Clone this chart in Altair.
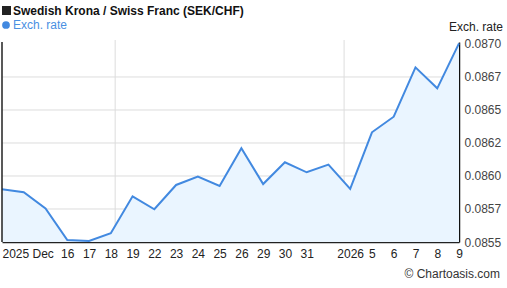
import json
import altair as alt
import pandas as pd

# ---- data ----
dates = ["2025-12-11", "2025-12-12", "2025-12-15", "2025-12-16", "2025-12-17",
         "2025-12-18", "2025-12-19", "2025-12-22", "2025-12-23", "2025-12-24",
         "2025-12-25", "2025-12-26", "2025-12-29", "2025-12-30", "2025-12-31",
         "2026-01-01", "2026-01-02", "2026-01-05", "2026-01-06", "2026-01-07",
         "2026-01-08", "2026-01-09"]
x_labels = ["2025 Dec", "", "", "16", "17", "18", "19", "22", "23", "24", "25",
            "26", "29", "30", "31", "", "2026", "5", "6", "7", "8", "9"]
rates = [0.085899, 0.085877, 0.085755, 0.085515, 0.085508, 0.085566, 0.085846,
         0.085748, 0.085932, 0.085995, 0.085924, 0.086210, 0.085939, 0.086104,
         0.086028, 0.086086, 0.085902, 0.086331, 0.086449, 0.086823, 0.086664,
         0.087005]
y_ticks = [0.0855, 0.08575, 0.0860, 0.08625, 0.0865, 0.08675, 0.0870]
h_grid = [0.08575, 0.0860, 0.08625, 0.0865, 0.08675]
v_grid = [5.2, 15.72]

title_text = "Swedish Krona / Swiss Franc (SEK/CHF)"
series_name = "Exch. rate"
credit = "© Chartoasis.com"

W, H = 457, 200
LINE = "#4289e0"
FILL = "#eaf5ff"
FONT = "Liberation Sans"

df = pd.DataFrame({"idx": list(range(len(rates))), "date": dates,
                   "label": x_labels, "rate": rates})

xscale = alt.Scale(domain=[0, len(rates) - 1], nice=False, zero=False)
yscale = alt.Scale(domain=[y_ticks[0], 0.087015], nice=False, zero=False)

x_axis = alt.Axis(
    values=[i for i, l in enumerate(x_labels) if l],
    labelExpr=f"{json.dumps(x_labels)}[round(datum.value)]",
    labelAlign={"condition": {"test": "datum.value == 0", "value": "left"}, "value": "center"},
    labelFlush=False, labelOverlap=False, labelBound=False,
    ticks=False, grid=False, labelPadding=6, labelFontSize=12,
    labelColor="#222222", domainColor="#222222", domainWidth=1.5, title=None,
)
y_axis = alt.Axis(
    orient="right", values=y_ticks,
    labelExpr="format(floor(datum.value*10000+0.001)/10000, '.4f')",
    ticks=False, grid=False, labelPadding=5, labelFontSize=12,
    labelColor="#444444", domainColor="#111111", domainWidth=1.5, title=None,
    labelOverlap=False,
)

X = alt.X("idx:Q", scale=xscale, axis=x_axis)
Y = alt.Y("rate:Q", scale=yscale, axis=y_axis)

hgrid = alt.Chart(pd.DataFrame({"rate": h_grid})).mark_rule(
    color="#dddddd", strokeWidth=1).encode(y=Y)
vgrid = alt.Chart(pd.DataFrame({"idx": v_grid})).mark_rule(
    color="#dddddd", strokeWidth=1).encode(x=X, y=alt.value(-2), y2=alt.value(H))

area = alt.Chart(df).mark_area(color=FILL, opacity=1).encode(
    x=X, y=Y, y2=alt.datum(y_ticks[0]),
)
line = alt.Chart(df).mark_line(color=LINE, strokeWidth=2).encode(x=X, y=Y)
left_border = alt.Chart(pd.DataFrame({"a": [0]})).mark_rule(
    color="#222222", strokeWidth=1.5).encode(
    x=alt.value(0), y=alt.value(0), y2=alt.value(H))

one = pd.DataFrame({"a": [0]})
title_sq = alt.Chart(one).mark_square(color="#222222", size=81, opacity=1).encode(
    x=alt.value(4.5), y=alt.value(-31.5))
title_tx = alt.Chart(pd.DataFrame({"t": [title_text]})).mark_text(
    align="left", baseline="middle", fontWeight="bold", fontSize=12,
    color="#111111", font=FONT).encode(text="t:N", x=alt.value(11), y=alt.value(-31.5))
leg_dot = alt.Chart(one).mark_circle(color=LINE, size=60, opacity=1).encode(
    x=alt.value(4), y=alt.value(-17))
leg_tx = alt.Chart(pd.DataFrame({"t": [series_name]})).mark_text(
    align="left", baseline="middle", fontSize=12, color="#4a90e2", font=FONT).encode(
    text="t:N", x=alt.value(11), y=alt.value(-17))
ax_title = alt.Chart(pd.DataFrame({"t": [series_name]})).mark_text(
    align="right", baseline="middle", fontSize=12, color="#222222", font=FONT).encode(
    text="t:N", x=alt.value(501), y=alt.value(-15))
credit_tx = alt.Chart(pd.DataFrame({"t": [credit]})).mark_text(
    align="right", baseline="middle", fontSize=12, color="#333333", font=FONT).encode(
    text="t:N", x=alt.value(498), y=alt.value(232))

chart = alt.layer(
    hgrid, vgrid, area, line, left_border,
    title_sq, title_tx, leg_dot, leg_tx, ax_title, credit_tx,
).properties(
    width=W, height=H,
    autosize=alt.AutoSizeParams(type="none"),
    padding={"left": 2, "top": 42, "right": 48, "bottom": 46},
).configure(font=FONT).configure_view(stroke=None)

chart.save("out.html", embed_options={"renderer": "svg", "actions": False})
